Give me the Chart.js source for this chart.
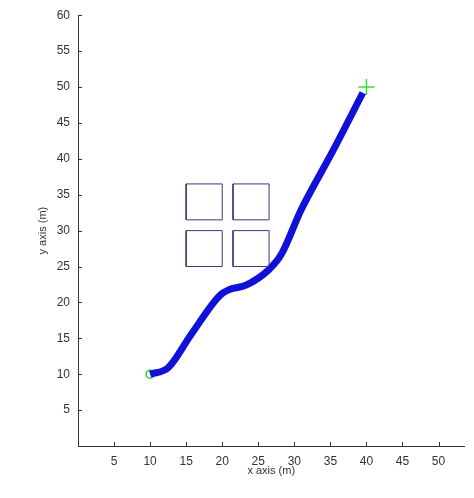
<!DOCTYPE html>
<html>
<head>
<script src="https://cdn.jsdelivr.net/npm/chart.js@4/dist/chart.umd.min.js"></script>
<style>
  body { margin: 0; background: #fff; }
  #wrap { width: 474px; height: 498px; }
</style>
</head>
<body>
<div id="wrap"><canvas id="chart"></canvas></div>
<script>
// Path (metres)
const pathX = [10, 12.5, 15.6, 19.7, 21, 23.3, 26.4, 28.2, 30.9, 35.4, 39.5];
const pathY = [10, 10.9, 15.4, 21, 21.8, 22.4, 24.5, 26.7, 32.8, 41.2, 49.2];
const startPoint = [10, 10];
const goalPoint = [40, 50];

// Obstacles: [xMin, xMax, yMin, yMax]
const obstacles = [
  [15, 20, 31.5, 36.5],
  [21.5, 26.5, 31.5, 36.5],
  [15, 20, 25, 30],
  [21.5, 26.5, 25, 30]
];

const xTicks = [5, 10, 15, 20, 25, 30, 35, 40, 45, 50];
const yTicks = [5, 10, 15, 20, 25, 30, 35, 40, 45, 50, 55, 60];

const datasets = [];

obstacles.forEach((o) => {
  datasets.push({
    data: [
      { x: o[0], y: o[2] }, { x: o[1], y: o[2] }, { x: o[1], y: o[3] },
      { x: o[0], y: o[3] }, { x: o[0], y: o[2] }
    ],
    borderColor: '#3a3a7a',
    borderWidth: 1,
    pointRadius: 0,
    tension: 0
  });
});

datasets.push({
  data: pathX.map((x, i) => ({ x: x, y: pathY[i] })),
  borderColor: '#1010d8',
  borderWidth: 7,
  pointRadius: 0,
  cubicInterpolationMode: 'monotone',
  tension: 0.4
});

datasets.push({
  data: [{ x: startPoint[0], y: startPoint[1] }],
  pointStyle: 'circle',
  pointRadius: 4,
  borderColor: '#33cc33',
  borderWidth: 1.5,
  backgroundColor: 'rgba(0,0,0,0)',
  showLine: false
});

datasets.push({
  data: [{ x: goalPoint[0], y: goalPoint[1] }],
  pointStyle: 'cross',
  pointRadius: 8,
  borderColor: '#33dd33',
  borderWidth: 1.5,
  showLine: false
});

// Inward tick marks like the original figure
const inwardTicks = {
  id: 'inwardTicks',
  afterDraw(chart) {
    const { ctx, scales: { x, y } } = chart;
    ctx.save();
    ctx.strokeStyle = '#333';
    ctx.lineWidth = 1;
    ctx.beginPath();
    xTicks.forEach((v) => {
      const px = Math.round(x.getPixelForValue(v)) + 0.5;
      ctx.moveTo(px, y.bottom);
      ctx.lineTo(px, y.bottom - 4);
    });
    yTicks.forEach((v) => {
      const py = Math.round(y.getPixelForValue(v)) + 0.5;
      ctx.moveTo(x.left, py);
      ctx.lineTo(x.left + 4, py);
    });
    ctx.stroke();
    ctx.restore();
  }
};

const tickFont = { family: 'Liberation Sans, Arial, sans-serif', size: 12 };

new Chart(document.getElementById('chart'), {
  type: 'line',
  data: { datasets: datasets },
  options: {
    responsive: true,
    maintainAspectRatio: false,
    animation: false,
    layout: { padding: { top: 14, right: 0, left: 32, bottom: 20 } },
    plugins: { legend: { display: false }, tooltip: { enabled: false } },
    scales: {
      x: {
        type: 'linear',
        min: 0,
        max: 53.6,
        afterBuildTicks: (s) => { s.ticks = xTicks.map((v) => ({ value: v })); },
        afterFit: (s) => { s.height = 32; },
        grid: { drawOnChartArea: false, drawTicks: false },
        border: { color: '#333', width: 1 },
        ticks: { color: '#333', font: tickFont, padding: 8, maxRotation: 0 },
        title: { display: true, text: 'x axis (m)', color: '#333', font: { family: tickFont.family, size: 11 }, padding: 0 }
      },
      y: {
        type: 'linear',
        min: 0,
        max: 60,
        afterBuildTicks: (s) => { s.ticks = yTicks.map((v) => ({ value: v })); },
        afterFit: (s) => { s.width = 46; },
        grid: { drawOnChartArea: false, drawTicks: false },
        border: { color: '#333', width: 1 },
        ticks: { color: '#333', font: tickFont, padding: 8 },
        title: { display: true, text: 'y axis (m)', color: '#333', font: { family: tickFont.family, size: 11 }, padding: 4 }
      }
    }
  },
  plugins: [inwardTicks]
});
</script>
</body>
</html>
